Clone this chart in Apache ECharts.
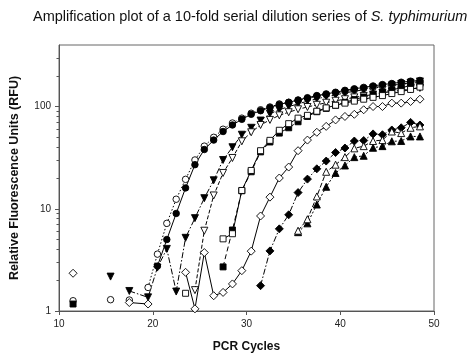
<!DOCTYPE html>
<html><head><meta charset="utf-8">
<script src="https://cdn.jsdelivr.net/npm/echarts@6/dist/echarts.min.js"></script>
<style>html,body{margin:0;padding:0;background:#fff}#c{width:474px;height:362px}</style>
</head><body><div id="c"></div>
<script>
// Data: [cycle, RFU]; null = line break
const openCircle = [[11.5,1.26],null,[15.5,1.29],null,[17.5,1.28],null,[19.5,1.7],[20.5,3.6],[21.5,7.2],[22.5,12.4],[23.5,19.4],[24.5,30],[25.5,41],[26.5,50],[27.5,60],[28.5,69],[29.5,77],[30.5,86],[31.5,93],[32.5,99],[33.5,106],[34.5,110],[35.5,115],[36.5,120],[37.5,126],[38.5,131],[39.5,136],[40.5,140],[41.5,145],[42.5,150],[43.5,154],[44.5,158],[45.5,161],[46.5,165],[47.5,169],[48.5,172]];
const filledCircle = [[20.5,2.75],[21.5,5.0],[22.5,9.0],[23.5,16],[24.5,27],[25.5,38],[26.5,47],[27.5,57],[28.5,66],[29.5,75],[30.5,84],[31.5,91],[32.5,98],[33.5,105],[34.5,110],[35.5,116],[36.5,122],[37.5,128],[38.5,133],[39.5,138],[40.5,144],[41.5,149],[42.5,154],[43.5,159],[44.5,164],[45.5,168],[46.5,173],[47.5,177],[48.5,180]];
const filledDown = [[15.5,2.17],null,[17.5,1.57],[19.5,1.36],[20.5,2.66],[21.5,4.05],[22.5,1.55],[23.5,5.2],[24.5,8.1],[25.5,12.7],[26.5,19],[27.5,30],[28.5,40],[29.5,53],[30.5,62],[31.5,73],[32.5,85],[33.5,93],[34.5,100],[35.5,106],[36.5,113],[37.5,119],[38.5,125],[39.5,130],[40.5,136],[41.5,141],[42.5,146],[43.5,151],[44.5,156],[45.5,161],[46.5,166],[47.5,171],[48.5,176]];
const openDown = [[24.5,1.6],[25.5,6.1],[26.5,13.5],[27.5,22.4],[28.5,31.4],[29.5,45.7],[30.5,56],[31.5,66],[32.5,74],[33.5,82],[34.5,88],[35.5,94],[36.5,99],[37.5,104],[38.5,109],[39.5,114],[40.5,118],[41.5,123],[42.5,127],[43.5,131],[44.5,136],[45.5,140],[46.5,144],[47.5,148],[48.5,152]];
const openSquare = [[23.5,1.49],null,[27.5,5.08],[28.5,5.7],[29.5,15.1],[30.5,23.7],[31.5,37],[32.5,46.7],[33.5,58.6],[34.5,68],[35.5,77],[36.5,82],[37.5,90],[38.5,97],[39.5,103],[40.5,108],[41.5,113],[42.5,118],[43.5,123],[44.5,128],[45.5,134],[46.5,140],[47.5,147],[48.5,155]];
const filledSquare = [[11.5,1.17],null,[27.5,2.7],[28.5,6.2],[29.5,15],[30.5,23],[31.5,36],[32.5,45],[33.5,55],[34.5,62],[35.5,71],[36.5,80],[37.5,89],[38.5,96],[39.5,103],[40.5,110],[41.5,117],[42.5,124],[43.5,131],[44.5,138],[45.5,145],[46.5,153],[47.5,160],[48.5,168]];
const openDiamond = [[11.5,2.34],null,[17.5,1.21],[19.5,1.17],null,[23.5,2.39],[24.5,1.05],[25.5,3.73],[26.5,1.41],[27.5,1.52],[28.5,1.84],[29.5,2.48],[30.5,3.85],[31.5,8.5],[32.5,13],[33.5,20],[34.5,25.6],[35.5,37],[36.5,47],[37.5,56],[38.5,64],[39.5,74],[40.5,80],[41.5,84],[42.5,93],[43.5,100],[44.5,100],[45.5,108],[46.5,108],[47.5,112],[48.5,118]];
const filledDiamond = [[31.5,1.77],[32.5,3.87],[33.5,6.36],[34.5,8.73],[35.5,14.4],[36.5,19.5],[37.5,24.6],[38.5,29.3],[39.5,35.5],[40.5,39.3],[41.5,46],[42.5,46.5],[43.5,54],[44.5,53],[45.5,59],[46.5,62],[47.5,70],[48.5,66]];
const openUp = [[35.5,6.1],[36.5,7.9],[37.5,13.2],[38.5,23],[39.5,27],[40.5,32],[41.5,39],[42.5,41],[43.5,46],[44.5,47],[45.5,57],[46.5,55],[47.5,62],[48.5,64]];
const filledUp = [[35.5,5.9],[36.5,7.2],[37.5,11],[38.5,16.4],[39.5,22.4],[40.5,26.5],[41.5,32],[42.5,33],[43.5,39.5],[44.5,41],[45.5,45.7],[46.5,46],[47.5,51],[48.5,51]];
const xTicks = [10, 20, 30, 40, 50];
const yMajor = [1, 10, 100];
const yMinor = [2,3,4,5,6,7,8,9,20,30,40,50,60,70,80,90,200,300];

const FONT = "'Liberation Sans', Arial, sans-serif";
const prep = d => d.map(p => p === null ? ['-', '-'] : p);
function mk(data, symbol, filled, dash, size, rotate) {
  return {
    type: 'line', data: prep(data), symbol: symbol, symbolSize: size,
    symbolRotate: rotate || 0, showAllSymbol: true, connectNulls: false,
    lineStyle: { color: '#000', width: 1, type: dash },
    itemStyle: { color: filled ? '#000' : '#fff', borderColor: '#000', borderWidth: 0.9, opacity: 1 },
    emphasis: { disabled: true }, z: 2
  };
}
const chart = echarts.init(document.getElementById('c'), null, { renderer: 'canvas' });
chart.setOption({
  animation: false,
  backgroundColor: '#fff',
  title: {
    text: '{n|Amplification plot of a 10-fold serial dilution series of }{i|S. typhimurium}',
    left: 28, top: 4,
    textStyle: { fontWeight: 'normal', rich: {
      n: { fontFamily: FONT, fontSize: 14.5, color: '#111', fontWeight: 'normal' },
      i: { fontFamily: FONT, fontSize: 14.5, color: '#111', fontWeight: 'normal', fontStyle: 'italic' }
    } }
  },
  grid: { left: 58, right: 40, top: 45, bottom: 51, show: true, borderColor: '#666', borderWidth: 1 },
  xAxis: {
    type: 'value', min: 10, max: 50, interval: 10,
    name: 'PCR Cycles', nameLocation: 'middle', nameGap: 30,
    nameTextStyle: { fontFamily: FONT, fontSize: 12, fontWeight: 'bold', color: '#111' },
    axisLine: { lineStyle: { color: '#555', width: 1 } },
    axisTick: { show: true, length: 4, lineStyle: { color: '#555' }, customValues: xTicks },
    axisLabel: { fontFamily: FONT, fontSize: 10, color: '#222', margin: 8, customValues: xTicks },
    splitLine: { show: false }
  },
  yAxis: [{
    type: 'log', logBase: 10, min: 1, max: 400,
    name: 'Relative Fluorescence Units (RFU)', nameLocation: 'middle', nameGap: 38,
    nameTextStyle: { fontFamily: FONT, fontSize: 12.5, fontWeight: 'bold', color: '#111' },
    axisLine: { show: true, lineStyle: { color: '#555', width: 1 } },
    axisTick: { show: true, length: 4, lineStyle: { color: '#555' }, customValues: yMajor },
    axisLabel: { fontFamily: FONT, fontSize: 10, color: '#222', margin: 8, customValues: yMajor },
    splitLine: { show: false }
  }, {
    type: 'log', logBase: 10, min: 1, max: 400, position: 'left',
    axisLine: { show: false },
    axisTick: { show: true, length: 2.5, lineStyle: { color: '#555' }, customValues: yMinor },
    axisLabel: { show: false },
    splitLine: { show: false }
  }],
  series: [
    mk(openCircle, 'circle', false, [1.5, 2], 6.5),
    mk(filledCircle, 'circle', true, 'solid', 6.5),
    mk(filledDown, 'triangle', true, [6, 2, 1.5, 2], 7, 180),
    mk(openDown, 'triangle', false, [4, 2], 7, 180),
    mk(filledSquare, 'rect', true, [5, 3], 6),
    mk(openSquare, 'rect', false, 'solid', 6),
    mk(openDiamond, 'diamond', false, 'solid', 8),
    mk(filledDiamond, 'diamond', true, [6, 2, 1.5, 2], 8),
    mk(filledUp, 'triangle', true, [2, 2], 7),
    mk(openUp, 'triangle', false, [5, 2], 7)
  ]
});
</script></body></html>
